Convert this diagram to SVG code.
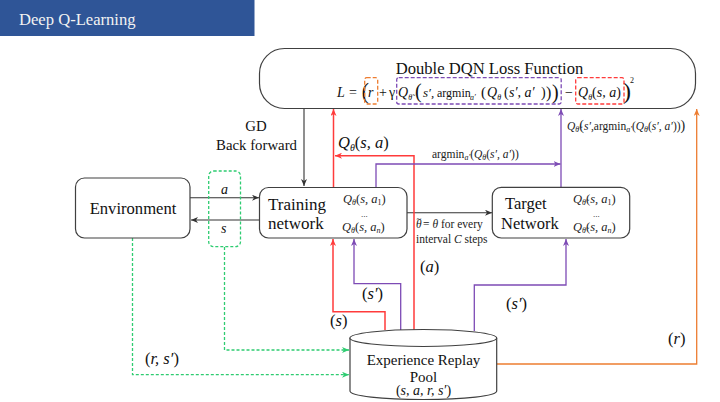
<svg xmlns="http://www.w3.org/2000/svg" width="720" height="402" viewBox="0 0 720 402">
<style>
text{font-family:"Liberation Serif","Times New Roman",serif;fill:#111}
.m{font-style:italic;font-size:13px}
.u{font-style:normal}
.n{fill:#fff;stroke:#404040;stroke-width:1.2}
.q{font-style:italic;font-size:12.500px;fill:#222}
.la{font-style:italic;font-size:16.500px}
.c{fill:none;stroke-width:1.3}
.k{stroke:#333;stroke-width:1.100}.r{stroke:#ff3b3b;stroke-width:1.500}.p{stroke:#7d4bb5;stroke-width:1.300}.o{stroke:#ed7d31}.g{stroke:#2ecc71;stroke-dasharray:3 2}
.d{fill:none;stroke-width:1.300;stroke-dasharray:4 2}
</style>
<defs>
<marker id="ak" markerWidth="8" markerHeight="6" refX="7" refY="3" orient="auto" markerUnits="userSpaceOnUse"><path d="M0 0L7 3L0 6L2 3Z" fill="#333"/></marker>
<marker id="ar" markerWidth="8" markerHeight="6" refX="7" refY="3" orient="auto" markerUnits="userSpaceOnUse"><path d="M0 0L7 3L0 6L2 3Z" fill="#ff3b3b"/></marker>
<marker id="ap" markerWidth="8" markerHeight="6" refX="7" refY="3" orient="auto" markerUnits="userSpaceOnUse"><path d="M0 0L7 3L0 6L2 3Z" fill="#7d4bb5"/></marker>
<marker id="ao" markerWidth="8" markerHeight="6" refX="7" refY="3" orient="auto" markerUnits="userSpaceOnUse"><path d="M0 0L7 3L0 6L2 3Z" fill="#ed7d31"/></marker>
<marker id="ag" markerWidth="8" markerHeight="6" refX="7" refY="3" orient="auto" markerUnits="userSpaceOnUse"><path d="M0 0L7 3L0 6L2 3Z" fill="#2ecc71"/></marker>
</defs>
<rect x="0" y="0" width="720" height="402" fill="#fff"/>
<g id="header"><rect x="0" y="0" width="254.500" height="36" fill="#2f5597"/><text x="19" y="25" font-size="16.600" style="fill:#f2f2f2">Deep Q-Learning</text></g>

<g id="connectors">
<path class="c k" d="M304 108V186" marker-end="url(#ak)"/>
<path class="c k" d="M190 197.700H259" marker-end="url(#ak)"/>
<path class="c k" d="M259 220H191" marker-end="url(#ak)"/>
<path class="c k" d="M407 212.700H492" marker-end="url(#ak)"/>
<path class="c r" d="M333.500 187V109" marker-end="url(#ar)"/>
<path class="c r" d="M414 330V155.700H335" marker-end="url(#ar)"/>
<path class="c r" d="M385 330V311.700H333V239" marker-end="url(#ar)"/>
<path class="c p" d="M376 187V164H560.500" marker-end="url(#ap)"/>
<path class="c p" d="M561 187V109" marker-end="url(#ap)"/>
<path class="c p" d="M400.700 330V283.700H354V239" marker-end="url(#ap)"/>
<path class="c p" d="M474.300 331V285H566V239" marker-end="url(#ap)"/>
<path class="c o" d="M497 364H696.700V109" marker-end="url(#ao)"/>
<path class="c g" d="M224.500 247V350H349" marker-end="url(#ag)"/>
<path class="c g" d="M132.500 238V374.700H349" marker-end="url(#ag)"/>
</g>

<g id="loss">
<rect class="n" x="259.500" y="48.500" width="436" height="60" rx="25"/>
<text x="489.500" y="74" text-anchor="middle" font-size="16.600">Double DQN Loss Function</text>
<text class="m" x="337" y="97" style="font-size:14px">L</text>
<text x="349" y="97" font-size="14">=</text>
<text x="362" y="99" font-size="24" transform="translate(36 0) scale(.9 1)">(</text>
<text class="m" x="368" y="97" style="font-size:14px">r</text>
<text x="379" y="97" font-size="14">+</text>
<text x="389" y="97" font-size="14">γ</text>
<text class="m" x="398" y="97" style="font-size:14px">Q<tspan font-size="8" dy="3">θ̃</tspan></text>
<text x="415" y="98" font-size="20">(</text>
<text class="m" x="423" y="97">s′,</text>
<text x="437" y="97" font-size="12">argmin</text>
<text class="m" x="470" y="100" style="font-size:8px">a′</text>
<text x="481" y="97" font-size="15">(</text>
<text class="m" x="487" y="97" style="font-size:14px">Q<tspan font-size="8" dy="3">θ</tspan></text>
<text x="504" y="97" font-size="14">(</text>
<text class="m" x="509" y="97" style="font-size:14px">s′, a′</text>
<text x="541" y="97" font-size="14">)</text>
<text x="546" y="98" font-size="16">)</text>
<text x="552" y="99" font-size="20">)</text>
<text x="565" y="97" font-size="14">−</text>
<text class="m" x="578" y="97" style="font-size:14px">Q<tspan font-size="8" dy="3">θ</tspan><tspan dy="-3" class="u">(</tspan>s, a<tspan class="u">)</tspan></text>
<text x="623" y="99" font-size="24">)</text>
<text x="630" y="83" font-size="8">2</text>
<rect class="d" x="364.700" y="77.700" width="13" height="26.300" rx="2" stroke="#ed7d31"/>
<rect class="d" x="396.700" y="77.700" width="164.500" height="26.300" rx="2" stroke="#7d4bb5"/>
<rect class="d" x="575.700" y="77.700" width="48.300" height="26.300" rx="2" stroke="#ff3b3b"/>
</g>

<g id="environment">
<rect class="n" x="75.500" y="178" width="114.500" height="60" rx="9"/>
<text x="133" y="214" text-anchor="middle" font-size="16.600">Environment</text>
</g>

<g id="training">
<rect class="n" x="259.500" y="187.500" width="147.500" height="50.500" rx="9"/>
<text x="268" y="210" font-size="17">Training</text>
<text x="268" y="229" font-size="17">network</text>
<text class="q" x="343" y="203">Q<tspan font-size="8" dy="2">θ</tspan><tspan dy="-2" class="u">(</tspan>s, a<tspan font-size="8" dy="2" class="u">1</tspan><tspan dy="-2" class="u">)</tspan></text>
<text x="361" y="217" font-size="9">...</text>
<text class="q" x="342" y="231">Q<tspan font-size="8" dy="2">θ</tspan><tspan dy="-2" class="u">(</tspan>s, a<tspan font-size="8" dy="2">n</tspan><tspan dy="-2" class="u">)</tspan></text>
</g>

<g id="target">
<rect class="n" x="492.300" y="187.300" width="137.400" height="50.700" rx="9"/>
<text x="505" y="209" font-size="16.500">Target</text>
<text x="501" y="229" font-size="16.500">Network</text>
<text class="q" x="573" y="203">Q<tspan font-size="8" dy="2">θ̃</tspan><tspan dy="-2" class="u">(</tspan>s, a<tspan font-size="8" dy="2" class="u">1</tspan><tspan dy="-2" class="u">)</tspan></text>
<text x="593" y="217" font-size="9">...</text>
<text class="q" x="573" y="231">Q<tspan font-size="8" dy="2">θ̃</tspan><tspan dy="-2" class="u">(</tspan>s, a<tspan font-size="8" dy="2">n</tspan><tspan dy="-2" class="u">)</tspan></text>
</g>

<g id="pool">
<path class="n" d="M350 338V391C350 396 382 399.500 423.300 399.500S496.700 396 496.700 391V338"/>
<ellipse class="n" cx="423.300" cy="338" rx="73.400" ry="8.500"/>
<text x="423.500" y="365" text-anchor="middle" font-size="15">Experience Replay</text>
<text x="423.500" y="382" text-anchor="middle" font-size="15">Pool</text>
<text class="m" x="423.500" y="394.500" text-anchor="middle" style="font-size:14px"><tspan class="u">(</tspan>s, a, r, s′<tspan class="u">)</tspan></text>
</g>

<g id="sample-box"><rect class="d" x="208.700" y="171" width="31.800" height="75.700" rx="5" stroke="#2ecc71" style="stroke-dasharray:3 2"/></g>

<g id="labels">
<text class="m" x="221" y="194" style="font-size:14px">a</text>
<text class="m" x="221" y="233" style="font-size:14px">s</text>
<text x="256" y="131" text-anchor="middle" font-size="14.800">GD</text>
<text x="256.500" y="150" text-anchor="middle" font-size="14.800">Back forward</text>
<text class="m" x="338" y="148" style="font-size:16.500px">Q<tspan font-size="10" dy="3">θ</tspan><tspan dy="-3" class="u">(</tspan>s, a<tspan class="u">)</tspan></text>
<text x="432" y="158" font-size="11.500" style="fill:#222">argmin<tspan font-size="8" dy="2" font-style="italic">a′</tspan><tspan dy="-2">(</tspan><tspan font-style="italic">Q</tspan><tspan font-size="8" dy="2" font-style="italic">θ</tspan><tspan dy="-2">(</tspan><tspan font-style="italic">s′, a′</tspan>))</text>
<text x="567" y="130" font-size="11.500" style="fill:#222"><tspan font-style="italic">Q</tspan><tspan font-size="8" dy="2" font-style="italic">θ̃</tspan><tspan dy="-2" font-size="14">(</tspan><tspan font-style="italic">s′,</tspan>argmin<tspan font-size="8" dy="2" font-style="italic">a′</tspan><tspan dy="-2">(</tspan><tspan font-style="italic">Q</tspan><tspan font-size="8" dy="2" font-style="italic">θ</tspan><tspan dy="-2">(</tspan><tspan font-style="italic">s′, a′</tspan>))<tspan font-size="14">)</tspan></text>
<text x="416" y="228" font-size="11.500" font-style="italic" style="fill:#222">θ</text>
<text x="416.500" y="222" font-size="9" style="fill:#222">~</text>
<text x="423" y="228" font-size="11.500" style="fill:#222">= <tspan font-style="italic">θ</tspan> for every</text>
<text x="416" y="243" font-size="11.500" style="fill:#222">interval <tspan font-style="italic">C</tspan> steps</text>
<text class="la" x="420" y="272"><tspan class="u">(</tspan>a<tspan class="u">)</tspan></text>
<text class="la" x="362" y="299"><tspan class="u">(</tspan>s′<tspan class="u">)</tspan></text>
<text class="la" x="330" y="326"><tspan class="u">(</tspan>s<tspan class="u">)</tspan></text>
<text class="la" x="506" y="309"><tspan class="u">(</tspan>s′<tspan class="u">)</tspan></text>
<text class="la" x="145" y="364"><tspan class="u">(</tspan>r, s′<tspan class="u">)</tspan></text>
<text class="la" x="668" y="344"><tspan class="u">(</tspan>r<tspan class="u">)</tspan></text>
</g>
</svg>
